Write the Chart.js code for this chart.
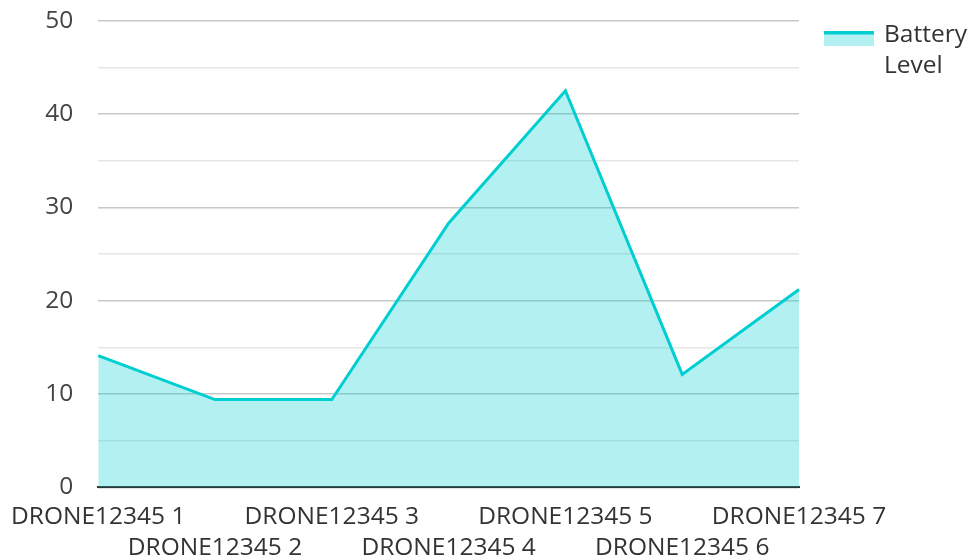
<!DOCTYPE html>
<html>
<head>
<meta charset="utf-8">
<script src="https://cdn.jsdelivr.net/npm/chart.js@4/dist/chart.umd.min.js"></script>
<style>
  html, body { margin: 0; padding: 0; background: #fff; }
  #wrap { width: 970px; height: 560px; }
</style>
</head>
<body>
<div id="wrap"><canvas id="chart"></canvas></div>
<script>
const categories = ['DRONE12345 1', 'DRONE12345 2', 'DRONE12345 3', 'DRONE12345 4', 'DRONE12345 5', 'DRONE12345 6', 'DRONE12345 7'];
const batteryLevel = [14.1, 9.4, 9.4, 28.3, 42.5, 12.1, 21.2];
const yTickLabels = [0, 10, 20, 30, 40, 50];

const lineColor = '#00CED1';
const fillColor = 'rgba(0, 206, 209, 0.3)';
const fontSize = 24.5;
const clear = 'rgba(0, 0, 0, 0)';

// legend drawn by hand: thick top line over a light box, text on two lines
const sideLegend = {
    id: 'sideLegend',
    afterDraw(chart) {
        const ctx = chart.ctx;
        const x = 824, y = 31;
        ctx.save();
        ctx.fillStyle = fillColor;
        ctx.fillRect(x, y, 50, 15);
        ctx.fillStyle = lineColor;
        ctx.fillRect(x, y, 50, 3.5);
        ctx.fillStyle = '#333';
        ctx.font = fontSize + 'px "Open Sans"';
        ctx.textBaseline = 'middle';
        ctx.fillText('Battery', 884, 35);
        ctx.fillText('Level', 884, 66);
        ctx.restore();
    }
};

new Chart(document.getElementById('chart'), {
    type: 'line',
    data: {
        labels: categories,
        datasets: [{
            label: 'Battery Level',
            data: batteryLevel,
            borderColor: lineColor,
            backgroundColor: fillColor,
            borderWidth: 3,
            fill: 'origin',
            pointRadius: 0,
            tension: 0
        }]
    },
    options: {
        responsive: true,
        maintainAspectRatio: false,
        animation: false,
        layout: { padding: { left: 0, right: 171, top: 0, bottom: -15 } },
        plugins: {
            legend: { display: false },
            tooltip: { enabled: false }
        },
        scales: {
            x: {
                offset: false,
                // invisible grid/ticks, tick length only pushes labels down
                grid: { color: clear, tickColor: clear, drawTicks: true, tickLength: 3 },
                border: { display: true, color: '#333', width: 2 },
                ticks: {
                    autoSkip: false,
                    maxRotation: 0,
                    padding: 11,
                    color: '#333',
                    font: { family: '"Open Sans"', size: fontSize, lineHeight: 1.28 },
                    callback: (v, i) => i % 2 === 0 ? [categories[i], ''] : ['', categories[i]]
                }
            },
            y: {
                min: 0,
                max: 50,
                grid: {
                    drawTicks: true,
                    tickLength: 19,
                    tickColor: clear,
                    lineWidth: 1.5,
                    color: c => (c.tick.value % 10 === 0 ? '#c8c8c8' : '#e6e6e6')
                },
                border: { display: false },
                ticks: {
                    stepSize: 5,
                    padding: 6,
                    color: '#444',
                    font: { family: '"Open Sans"', size: fontSize },
                    callback: v => (yTickLabels.includes(v) ? v : '')
                }
            }
        }
    },
    plugins: [sideLegend]
});
</script>
</body>
</html>
